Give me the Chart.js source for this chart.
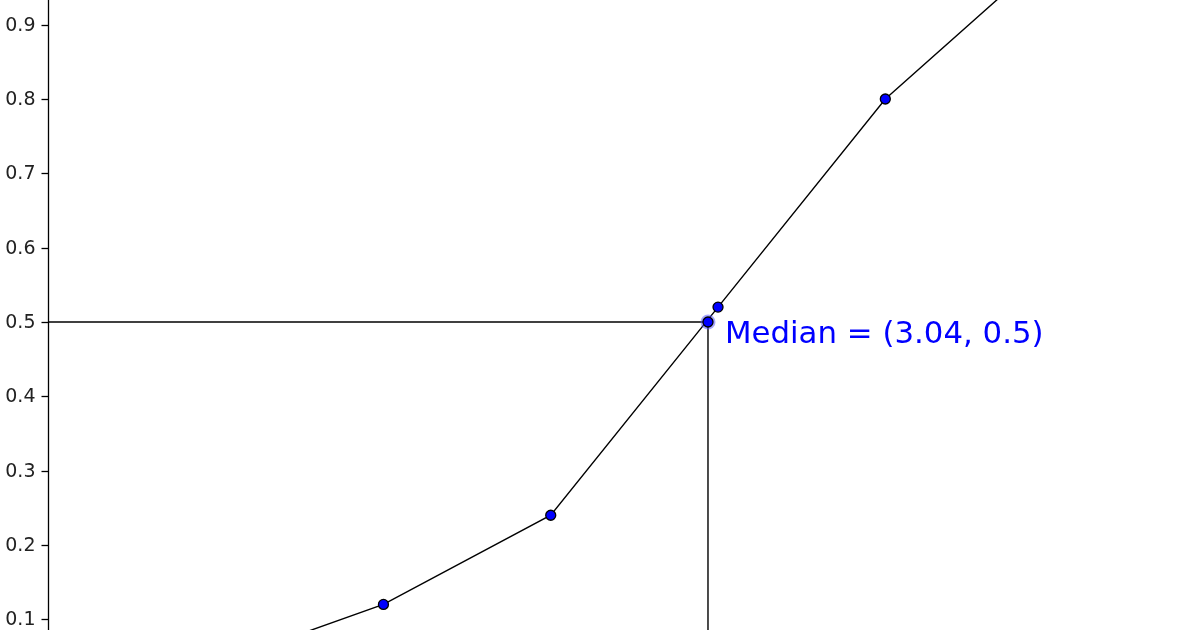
<!DOCTYPE html>
<html>
<head>
<meta charset="utf-8">
<script src="https://cdn.jsdelivr.net/npm/chart.js@4.4.1/dist/chart.umd.min.js"></script>
<style>
  html, body { margin: 0; padding: 0; background: #fff; }
  #wrap { width: 1200px; height: 630px; }
</style>
</head>
<body>
<div id="wrap"><canvas id="c" width="1200" height="630"></canvas></div>
<script>
// Cumulative relative frequency polygon (upper class boundaries)
const boundaries = [0.1, 1.1, 2.1, 3.1, 4.1, 5.1];
const cumFreq = [0.04, 0.12, 0.24, 0.52, 0.80, 1.00];
const medianX = 3.04;
const medianY = 0.5;
const medianLabel = 'Median = (3.04, 0.5)';
const yTicks = [0.1, 0.2, 0.3, 0.4, 0.5, 0.6, 0.7, 0.8, 0.9];
const yTickLabels = ['0.1', '0.2', '0.3', '0.4', '0.5', '0.6', '0.7', '0.8', '0.9'];

// visible window
const xMin = -1.192, xMax = 5.981;
const yMin = 0.0856, yMax = 0.9332;
const axisAtX = -0.905;

const polygon = boundaries.map((b, i) => ({ x: b, y: cumFreq[i] }));

// y axis drawn at x = axisAtX using the chart's own scales
const axisPlugin = {
  id: 'stickyYAxis',
  beforeDatasetsDraw(chart) {
    const { ctx, scales, chartArea } = chart;
    const ax = Math.round(scales.x.getPixelForValue(axisAtX)) + 0.5;
    ctx.save();
    ctx.strokeStyle = '#000';
    ctx.lineWidth = 1.3;
    ctx.beginPath();
    ctx.moveTo(ax, chartArea.top);
    ctx.lineTo(ax, chartArea.bottom);
    ctx.stroke();
    ctx.font = '19px "DejaVu Sans"';
    ctx.fillStyle = '#222';
    ctx.textAlign = 'right';
    ctx.textBaseline = 'middle';
    yTicks.forEach((v, i) => {
      const py = Math.round(scales.y.getPixelForValue(v)) + 0.5;
      ctx.beginPath();
      ctx.moveTo(ax - 7, py);
      ctx.lineTo(ax, py);
      ctx.stroke();
      ctx.fillText(yTickLabels[i], ax - 13, py + 1);
    });
    ctx.restore();
  }
};

const labelPlugin = {
  id: 'medianLabel',
  afterDatasetsDraw(chart) {
    const { ctx, scales } = chart;
    const px = scales.x.getPixelForValue(medianX);
    const py = scales.y.getPixelForValue(medianY);
    ctx.save();
    ctx.font = '30.8px "DejaVu Sans"';
    ctx.fillStyle = '#0000ff';
    ctx.textAlign = 'left';
    ctx.textBaseline = 'alphabetic';
    ctx.fillText(medianLabel, px + 17, py + 21);
    ctx.restore();
  }
};

new Chart(document.getElementById('c'), {
  type: 'scatter',
  data: {
    datasets: [
      {
        label: 'hline',
        data: [{ x: axisAtX, y: medianY }, { x: medianX, y: medianY }],
        showLine: true, borderColor: '#000', borderWidth: 1.4,
        pointRadius: 0, order: 5
      },
      {
        label: 'vline',
        data: [{ x: medianX, y: medianY }, { x: medianX, y: 0 }],
        showLine: true, borderColor: '#000', borderWidth: 1.4,
        pointRadius: 0, order: 5
      },
      {
        label: 'polygon',
        data: polygon,
        showLine: true, borderColor: '#000', borderWidth: 1.4,
        pointRadius: 5, pointBackgroundColor: '#0000ff',
        pointBorderColor: '#000', pointBorderWidth: 1.3, order: 4
      },
      {
        label: 'halo',
        data: [{ x: medianX, y: medianY }],
        pointRadius: 7.5, pointBackgroundColor: 'rgba(80,80,255,0.5)',
        pointBorderWidth: 0, order: 3
      },
      {
        label: 'median',
        data: [{ x: medianX, y: medianY }],
        pointRadius: 5, pointBackgroundColor: '#0000ff',
        pointBorderColor: '#000', pointBorderWidth: 1.3, order: 2
      }
    ]
  },
  options: {
    responsive: false,
    animation: false,
    devicePixelRatio: 1,
    layout: { padding: 0, autoPadding: false },
    plugins: { legend: { display: false }, tooltip: { enabled: false } },
    events: [],
    scales: {
      x: { type: 'linear', min: xMin, max: xMax, display: false },
      y: { type: 'linear', min: yMin, max: yMax, display: false }
    }
  },
  plugins: [axisPlugin, labelPlugin]
});
</script>
</body>
</html>
